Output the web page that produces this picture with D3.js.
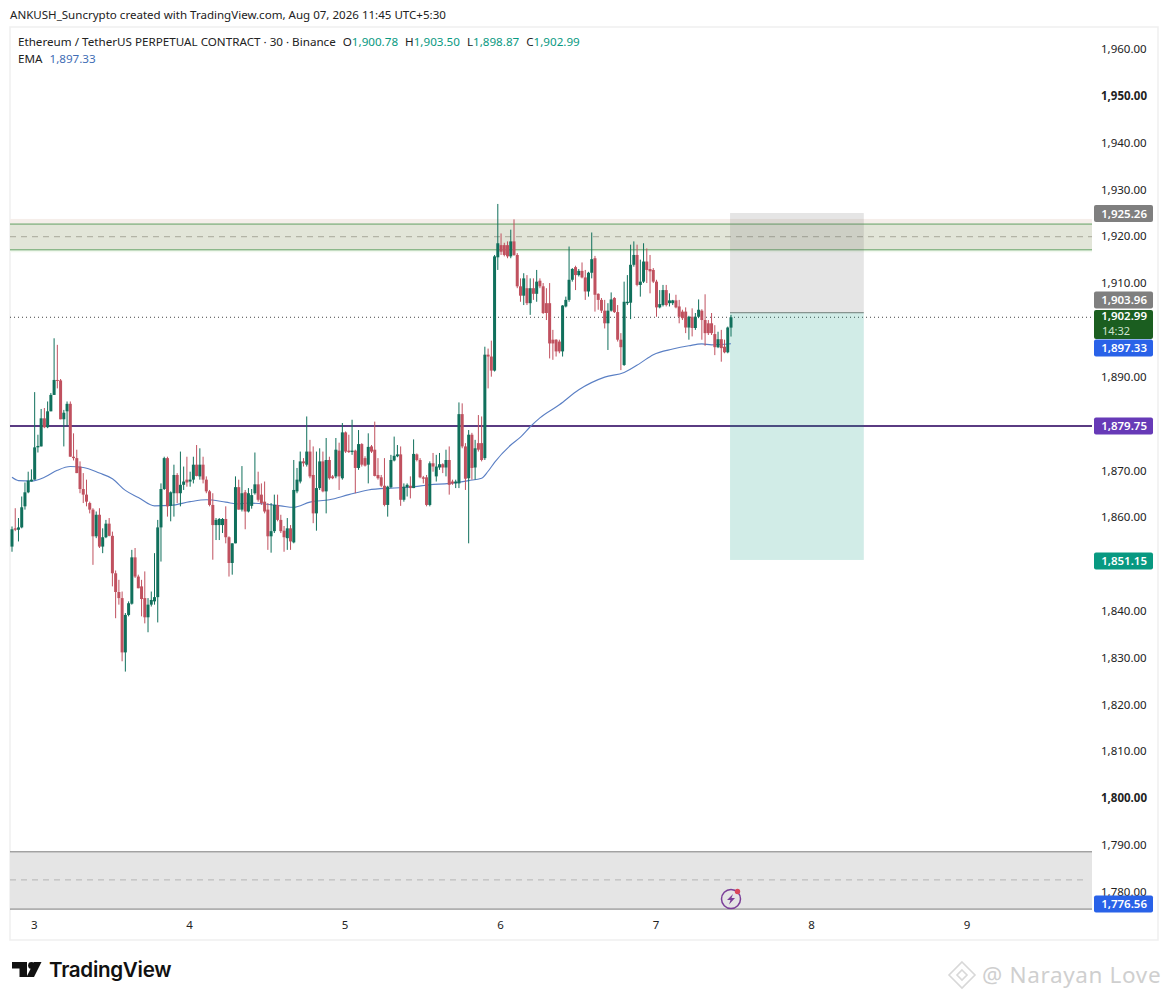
<!DOCTYPE html>
<html><head><meta charset="utf-8">
<style>html,body{margin:0;padding:0;background:#fff}svg{display:block}text{font-family:"Noto Sans",sans-serif}</style>
<script src="https://cdn.jsdelivr.net/npm/d3@7"></script></head>
<body><div id="chart"></div>
<script>
const opens=[1854.0,1857.9,1857.6,1858.1,1862.6,1865.6,1867.9,1868.3,1875.2,1875.4,
1881.4,1879.5,1882.9,1886.4,1889.6,1889.5,1881.2,1882.9,1884.5,1873.2,
1872.9,1871.1,1866.3,1865.1,1863.3,1861.9,1856.2,1860.8,1854.0,1856.0,
1858.9,1856.3,1848.3,1844.3,1843.0,1831.4,1839.4,1841.8,1851.7,1847.6,
1845.5,1843.0,1838.9,1841.6,1842.3,1843.2,1858.1,1866.3,1872.9,1862.7,
1865.4,1869.3,1865.4,1867.2,1868.3,1867.9,1868.3,1871.5,1869.0,1871.5,
1868.3,1865.8,1862.9,1858.6,1858.6,1858.6,1859.9,1856.0,1850.5,1854.7,
1866.7,1861.9,1865.6,1861.5,1862.7,1865.4,1867.3,1865.1,1863.6,1861.9,
1856.2,1857.3,1862.9,1859.7,1857.4,1855.8,1857.9,1854.9,1865.8,1867.9,
1872.2,1871.5,1874.3,1869.3,1861.1,1866.5,1872.2,1865.8,1872.5,1869.0,
1869.0,1874.5,1868.6,1878.4,1874.5,1874.2,1874.5,1870.8,1875.9,1872.9,
1871.5,1875.4,1874.7,1869.3,1868.8,1867.0,1862.9,1866.7,1872.4,1873.3,
1873.7,1864.0,1866.7,1867.0,1866.5,1873.7,1872.5,1868.8,1868.8,1862.9,
1871.8,1869.0,1870.9,1871.6,1870.9,1872.5,1867.9,1867.5,1867.5,1882.3,
1875.4,1868.6,1877.9,1870.9,1876.1,1876.1,1872.9,1895.0,1894.6,1891.6,
1915.8,1918.4,1918.4,1918.4,1916.0,1919.2,1916.3,1909.6,1907.6,1909.2,
1906.0,1909.2,1908.0,1910.8,1909.6,1906.0,1906.0,1898.2,1898.2,1897.8,
1895.7,1905.3,1906.7,1911.0,1913.7,1912.0,1912.9,1911.5,1908.5,1912.5,
1915.6,1908.0,1906.7,1904.4,1901.7,1904.4,1907.1,1904.1,1898.2,1892.8,
1906.0,1906.1,1914.2,1916.3,1909.9,1910.6,1914.9,1913.3,1913.1,1910.6,
1905.1,1905.6,1908.8,1906.0,1906.0,1906.6,1905.3,1904.2,1904.2,1900.8,
1903.1,1900.7,1903.1,1904.4,1902.4,1901.7,1901.7,1899.4,1896.6,1898.3,
1896.7,1895.5,1900.78];
const highs=[1858.3,1862.2,1860.1,1864.7,1867.7,1870.0,1870.5,1887.0,1877.9,1883.4,
1883.6,1885.0,1886.8,1898.5,1897.1,1889.8,1883.2,1885.0,1885.0,1878.2,
1874.7,1872.2,1869.7,1868.3,1863.6,1862.2,1861.5,1862.2,1857.9,1859.7,
1860.1,1857.2,1848.9,1846.9,1844.4,1839.8,1842.3,1853.3,1853.7,1848.0,
1846.9,1848.7,1843.0,1844.4,1852.6,1859.7,1867.5,1873.2,1873.2,1865.8,
1871.5,1869.7,1874.3,1871.1,1873.2,1870.0,1873.2,1875.7,1875.0,1873.2,
1869.0,1866.1,1865.4,1860.1,1860.1,1860.1,1862.6,1856.2,1854.7,1869.0,
1868.3,1871.2,1866.1,1866.5,1866.3,1874.1,1870.0,1867.5,1867.9,1863.3,
1863.3,1865.1,1865.1,1860.8,1858.4,1860.1,1858.6,1872.5,1870.8,1874.3,
1872.9,1881.8,1876.8,1875.4,1874.3,1875.0,1874.3,1877.2,1873.2,1869.3,
1877.2,1876.2,1880.4,1878.6,1877.9,1881.1,1874.7,1878.9,1876.1,1873.3,
1878.2,1875.7,1880.7,1872.9,1869.3,1872.9,1867.0,1873.6,1877.5,1875.7,
1875.4,1867.5,1867.5,1869.0,1876.9,1873.9,1872.9,1869.1,1869.3,1872.2,
1874.0,1873.6,1874.0,1871.8,1874.7,1875.4,1868.3,1868.3,1884.8,1884.6,
1876.1,1878.9,1878.3,1876.8,1882.1,1881.8,1896.7,1896.3,1898.0,1916.3,
1927.2,1920.9,1918.9,1919.2,1921.7,1923.9,1916.7,1911.3,1912.4,1912.0,
1911.3,1911.3,1913.1,1911.3,1910.3,1909.2,1910.3,1900.3,1898.3,1898.2,
1905.6,1907.4,1918.1,1913.5,1914.0,1913.3,1914.7,1913.1,1912.7,1921.1,
1916.1,1908.1,1907.1,1906.7,1906.0,1908.3,1907.3,1905.6,1899.6,1910.6,
1912.0,1918.5,1919.2,1918.5,1915.3,1918.8,1917.7,1916.3,1913.5,1911.0,
1908.8,1909.9,1909.9,1908.1,1906.7,1907.8,1906.7,1904.6,1905.1,1903.3,
1904.9,1903.9,1906.8,1904.7,1907.9,1902.4,1903.9,1901.3,1899.9,1900.3,
1898.2,1901.0,1903.5];
const lows=[1852.9,1857.3,1855.1,1857.9,1861.9,1865.4,1867.9,1868.3,1874.1,1875.4,
1879.3,1879.3,1882.9,1886.4,1887.8,1881.2,1875.4,1879.7,1873.2,1872.4,
1869.7,1865.4,1863.3,1862.6,1861.1,1850.1,1855.8,1853.7,1852.6,1855.8,
1856.2,1845.5,1838.7,1841.6,1829.5,1827.3,1839.1,1841.6,1847.3,1845.1,
1839.1,1837.6,1835.7,1841.2,1841.6,1837.8,1850.8,1866.1,1860.4,1859.4,
1860.4,1863.3,1862.6,1866.1,1866.8,1866.8,1867.5,1869.0,1868.3,1867.5,
1865.4,1862.6,1851.2,1855.4,1855.4,1856.9,1854.7,1847.6,1848.0,1854.7,
1861.9,1861.5,1857.7,1861.3,1862.1,1865.1,1863.6,1862.9,1861.1,1853.3,
1852.7,1856.9,1859.4,1856.9,1852.9,1853.3,1853.3,1854.7,1865.4,1867.5,
1871.1,1871.1,1868.6,1859.0,1857.4,1866.1,1865.6,1861.1,1868.3,1868.4,
1868.6,1866.1,1868.3,1874.0,1874.0,1873.6,1865.4,1870.4,1871.1,1871.1,
1867.5,1874.0,1869.0,1868.3,1866.7,1862.6,1860.4,1866.5,1872.2,1873.1,
1862.7,1863.6,1864.7,1864.3,1866.5,1872.2,1868.6,1867.5,1862.6,1862.6,
1870.0,1867.9,1870.4,1869.7,1869.0,1865.1,1867.2,1866.5,1866.5,1875.0,
1866.1,1854.7,1868.3,1868.3,1874.3,1872.2,1872.5,1887.8,1890.3,1891.4,
1913.1,1916.3,1916.0,1915.6,1915.6,1916.1,1909.2,1906.3,1905.6,1905.6,
1903.5,1906.7,1906.3,1909.2,1903.7,1902.4,1894.2,1893.9,1894.6,1895.3,
1894.6,1905.1,1906.3,1910.6,1908.8,1911.7,1911.3,1906.7,1907.4,1911.3,
1904.2,1904.6,1903.9,1900.6,1896.0,1904.2,1903.9,1897.8,1891.7,1892.6,
1905.6,1902.6,1913.8,1909.6,1907.4,1910.3,1910.3,1908.1,1910.3,1903.1,
1904.9,1905.3,1905.3,1905.3,1905.6,1904.9,1901.7,1902.4,1899.6,1898.2,
1898.9,1900.3,1902.8,1898.2,1896.9,1899.2,1899.2,1894.9,1896.4,1893.5,
1895.3,1895.3,1898.87];
const closes=[1857.7,1857.6,1858.1,1862.4,1865.6,1868.1,1868.3,1875.2,1875.5,1881.4,
1879.5,1882.9,1886.4,1889.6,1889.4,1881.2,1882.6,1884.5,1873.2,1872.9,
1869.7,1866.3,1865.1,1863.6,1861.9,1856.2,1860.8,1854.0,1856.0,1858.9,
1856.3,1848.3,1844.3,1843.0,1831.4,1839.4,1841.9,1851.7,1847.6,1845.1,
1842.8,1838.9,1841.6,1842.6,1843.2,1858.1,1866.3,1872.9,1862.6,1865.6,
1869.3,1865.4,1867.2,1867.9,1867.7,1868.3,1871.5,1869.1,1871.5,1868.3,
1865.8,1862.9,1858.6,1859.7,1859.9,1859.9,1856.0,1850.5,1854.7,1866.7,
1861.9,1865.4,1861.5,1865.4,1865.0,1867.3,1864.0,1863.3,1861.5,1856.2,
1857.3,1862.9,1859.7,1857.3,1856.0,1857.9,1855.1,1866.1,1868.3,1872.2,
1871.8,1874.3,1869.0,1861.1,1866.5,1872.2,1865.8,1872.5,1868.6,1868.6,
1874.7,1869.0,1878.4,1874.3,1874.2,1874.5,1870.8,1875.9,1871.5,1871.3,
1875.3,1874.3,1869.1,1868.6,1867.0,1862.9,1866.8,1872.5,1873.4,1873.7,
1864.0,1866.8,1867.2,1866.5,1873.8,1872.5,1868.8,1868.5,1862.9,1871.8,
1871.1,1871.1,1871.6,1870.9,1872.5,1867.2,1867.5,1867.9,1882.3,1875.4,
1868.5,1877.9,1870.8,1875.0,1874.7,1872.5,1895.0,1894.6,1891.6,1916.0,
1918.8,1917.0,1916.3,1916.0,1919.2,1916.3,1909.6,1907.6,1911.3,1906.0,
1909.2,1908.0,1910.6,1909.6,1903.9,1903.9,1897.4,1897.4,1895.7,1895.7,
1905.5,1906.7,1911.0,1913.3,1912.0,1912.9,1911.5,1908.5,1912.5,1915.4,
1907.8,1906.7,1904.4,1901.7,1904.4,1906.8,1904.1,1898.2,1896.6,1906.3,
1906.3,1914.2,1916.3,1909.9,1910.6,1914.9,1913.1,1912.8,1910.6,1905.1,
1905.8,1908.8,1905.6,1906.6,1906.6,1905.1,1903.1,1902.8,1900.8,1903.1,
1900.7,1903.1,1904.6,1902.4,1899.6,1899.6,1899.6,1896.6,1898.3,1896.4,
1895.5,1900.8,1902.99];
const emaBars=[0,2,6,10,14,18,22,27,31,35,39,44,49,55,60,66,70,73,78,83,87,92,98,104,110,117,123,129,135,141,145,147,149,154,157,160,163,169,175,183,189,194,198,204,209,213,216,222];
const emaValues=[1868.8,1868.1,1868.0,1868.8,1870.3,1871.1,1870.9,1869.7,1868.5,1866.0,1864.5,1862.7,1862.8,1863.6,1864.0,1863.5,1863.1,1863.3,1863.1,1862.7,1862.4,1863.5,1864.0,1865.1,1866.1,1866.5,1866.7,1867.2,1867.5,1868.1,1868.6,1870.1,1872.0,1875.7,1877.4,1879.6,1881.5,1884.3,1887.5,1890.2,1891.2,1893.2,1895.0,1896.2,1896.9,1897.3,1897.1,1897.33];

const priceTicks=[1960,1950,1940,1930,1920,1910,1890,1870,1860,1840,1830,1820,1810,1800,1790,1780];
const majorPrices=[1950,1800];
const dayTicks=[7,55,103,151,199,247,295];
const dayLabels=["3","4","5","6","7","8","9"];
const lastPrice=1902.99, emaLast=1897.33, keyLevel=1879.75;
const stopPrice=1925.26, entryPrice=1903.96, targetPrice=1851.15;
const toolBars=[221.7,263];
const upperZone=[1924.0,1922.9,1920.2,1917.4];
const lowerZone=[1788.8,1782.8,1776.56];
const priceTags=[
 {v:stopPrice,t:"1,925.26",c:"#7f7f7f",cy:213.5},
 {v:entryPrice,t:"1,903.96",c:"#7f7f7f",cy:300},
 {v:emaLast,t:"1,897.33",c:"#2962e8",cy:348},
 {v:keyLevel,t:"1,879.75",c:"#673ab7",cy:426},
 {v:targetPrice,t:"1,851.15",c:"#089981",cy:561},
 {v:1776.56,t:"1,776.56",c:"#2962e8",cy:904}];

const W=1168,H=1000,L=10,R=1092,T=28,B=910;
const GREEN="#10705c",RED="#c0515f";
const svg=d3.select("#chart").append("svg").attr("width",W).attr("height",H);
const x=d3.scaleLinear().domain([0,222]).range([12,731]);
const y=d3.scaleLinear().domain([1960,1780]).range([50.4,893]);

svg.append("rect").attr("x",10).attr("y",27).attr("width",1148).attr("height",913).attr("fill","#fff").attr("stroke","#efefef").attr("stroke-width",1.5);
svg.append("defs").append("clipPath").attr("id","pane").append("rect").attr("x",L).attr("y",T).attr("width",R-L).attr("height",B-T);
const pane=svg.append("g").attr("clip-path","url(#pane)");

// zones
pane.append("rect").attr("x",L).attr("width",R-L).attr("y",y(upperZone[0])).attr("height",y(upperZone[1])-y(upperZone[0])).attr("fill","#f5eeea");
pane.append("rect").attr("x",L).attr("width",R-L).attr("y",y(upperZone[1])).attr("height",y(upperZone[3])-y(upperZone[1])).attr("fill","#e2e5d8");
pane.append("rect").attr("x",L).attr("width",R-L).attr("y",y(upperZone[3])).attr("height",2.5).attr("fill","#f1f8ee");
[1,3].forEach(i=>pane.append("line").attr("x1",L).attr("x2",R).attr("y1",y(upperZone[i])).attr("y2",y(upperZone[i])).attr("stroke","#62a062").attr("stroke-width",1));
pane.append("line").attr("x1",L).attr("x2",R).attr("y1",y(upperZone[2])).attr("y2",y(upperZone[2])).attr("stroke","#a8a89a").attr("stroke-dasharray","6 5");

pane.append("rect").attr("x",L).attr("width",R-L).attr("y",y(lowerZone[0])).attr("height",y(lowerZone[2])-y(lowerZone[0])).attr("fill","#e5e5e5");
[0,2].forEach(i=>pane.append("line").attr("x1",L).attr("x2",R).attr("y1",y(lowerZone[i])).attr("y2",y(lowerZone[i])).attr("stroke","#7d7d7d"));
pane.append("line").attr("x1",L).attr("x2",R-5).attr("y1",y(lowerZone[1])).attr("y2",y(lowerZone[1])).attr("stroke","#b4b4b4").attr("stroke-dasharray","6 5");

// key level & last price
pane.append("line").attr("x1",L).attr("x2",R).attr("y1",y(keyLevel)).attr("y2",y(keyLevel)).attr("stroke","#5a3b82").attr("stroke-width",1.9);
pane.append("line").attr("x1",L).attr("x2",R).attr("y1",y(lastPrice)).attr("y2",y(lastPrice)).attr("stroke","#444").attr("stroke-dasharray","1 3");

// position tool
const tx0=x(toolBars[0]),tx1=x(toolBars[1]);
pane.append("rect").attr("x",tx0).attr("width",tx1-tx0).attr("y",y(stopPrice)).attr("height",y(entryPrice)-y(stopPrice)).attr("fill","rgba(110,110,110,.18)");
pane.append("rect").attr("x",tx0).attr("width",tx1-tx0).attr("y",y(entryPrice)).attr("height",y(targetPrice)-y(entryPrice)).attr("fill","rgba(8,153,129,.19)");
pane.append("line").attr("x1",tx0).attr("x2",tx1).attr("y1",y(entryPrice)).attr("y2",y(entryPrice)).attr("stroke","#6f7d78");

// EMA
pane.append("path").attr("fill","none").attr("stroke","#5a7fc4").attr("stroke-width",1.1)
 .attr("d",d3.line().x((d,i)=>x(emaBars[i])).y(d=>y(d)).curve(d3.curveMonotoneX)(emaValues));

// candles
const idx=d3.range(opens.length);
const candles=pane.append("g").selectAll("g").data(idx).join("g");
const col=i=>closes[i]>=opens[i]?GREEN:RED;
candles.append("line").attr("x1",i=>x(i)).attr("x2",i=>x(i)).attr("y1",i=>y(highs[i])).attr("y2",i=>y(lows[i])).attr("stroke",col).attr("stroke-width",1);
candles.append("rect").attr("x",i=>x(i)-1.5).attr("width",3)
 .attr("y",i=>y(Math.max(opens[i],closes[i])))
 .attr("height",i=>Math.max(1,Math.abs(y(opens[i])-y(closes[i])))).attr("fill",col);

// price axis
const axisR=svg.append("g").attr("transform","translate(1097,0)")
 .call(d3.axisRight(y).tickValues(priceTicks).tickSize(0).tickPadding(4).tickFormat(d3.format(",.2f")));
axisR.select(".domain").remove();
axisR.selectAll("text").attr("font-size",11.5).attr("fill","#222").attr("dy","0.2em")
 .attr("font-weight",d=>majorPrices.includes(d)?700:400).style("font-family",'"Noto Sans",sans-serif');

// time axis
const axisB=svg.append("g").attr("transform","translate(-1,921)")
 .call(d3.axisBottom(x).tickValues(dayTicks).tickSize(0).tickPadding(0).tickFormat((d,i)=>dayLabels[i]));
axisB.select(".domain").remove();
axisB.selectAll("text").attr("font-size",11.5).attr("fill","#222").attr("dy","0.71em").style("font-family",'"Noto Sans",sans-serif');

// price tags
const tag=svg.append("g").selectAll("g").data(priceTags).join("g");
tag.append("rect").attr("x",1094).attr("width",59).attr("y",d=>d.cy-8.5).attr("height",17).attr("rx",2).attr("fill",d=>d.c);
tag.append("text").attr("x",1147).attr("y",d=>d.cy+4).attr("text-anchor","end").attr("font-size",11.5).attr("font-weight",600).attr("fill","#fff").text(d=>d.t);
svg.append("rect").attr("x",1094).attr("y",310).attr("width",59).attr("height",29).attr("rx",2).attr("fill","#1b5e20");
svg.append("text").attr("x",1147).attr("y",320).attr("text-anchor","end").attr("font-size",11.5).attr("font-weight",600).attr("fill","#fff").text("1,902.99");
svg.append("text").attr("x",1102).attr("y",335).attr("font-size",11).attr("fill","#cfe3cf").text("14:32");

// headers
svg.append("text").attr("x",10).attr("y",19).attr("font-size",11.55).attr("fill","#222").text("ANKUSH_Suncrypto created with TradingView.com, Aug 07, 2026 11:45 UTC+5:30");
const h=svg.append("text").attr("x",18).attr("y",46).attr("font-size",11.65).attr("fill","#222");
h.append("tspan").text("Ethereum / TetherUS PERPETUAL CONTRACT · 30 · Binance");
[["O","1,900.78"],["H","1,903.50"],["L","1,898.87"],["C","1,902.99"]].forEach(([a,b],i)=>{
 h.append("tspan").attr("dx",7).text(a);
 h.append("tspan").attr("fill","#089981").text(b);
});
const e=svg.append("text").attr("x",18).attr("y",63).attr("font-size",11.65).attr("fill","#222");
e.append("tspan").text("EMA");
e.append("tspan").attr("dx",7).attr("fill","#3f6db5").text("1,897.33");

// bolt icon
const ic=svg.append("g").attr("transform","translate(731,899)");
ic.append("circle").attr("r",9.5).attr("fill","none").attr("stroke","#7b3f98").attr("stroke-width",1.5);
ic.append("path").attr("d","M2,-5 L-4,1 L-0.5,1 L-2,5.5 L4,-1 L0.5,-1 Z").attr("fill","#7b3f98");
ic.append("circle").attr("cx",6.5).attr("cy",-7.5).attr("r",2.7).attr("fill","#d9475a");

// logo
const lg=svg.append("g").attr("transform","translate(12,962)").attr("fill","#111");
lg.append("path").attr("d","M0,0 H15 V15 H7.5 V6.5 H0 Z");
lg.append("circle").attr("cx",19.5).attr("cy",3.4).attr("r",3.4);
lg.append("path").attr("d","M22,15 H14.5 L22,0 H29.5 Z");
svg.append("text").attr("x",49).attr("y",977).attr("font-size",20.6).attr("font-weight",600).attr("fill","#111").style("font-family","Inter,sans-serif").attr("letter-spacing",-0.3).text("TradingView");

// watermark
const wm=svg.append("g").attr("transform","translate(962,975)").attr("fill","none").attr("stroke","#d8d8d8").attr("stroke-width",1.6);
wm.append("path").attr("d","M0,-13 L13,0 L0,13 L-13,0 Z");
wm.append("path").attr("d","M0,-5 L5,0 L0,5 L-5,0 Z");
svg.append("text").attr("x",982).attr("y",983).attr("font-size",22.5).attr("fill","#cfcfcf").attr("letter-spacing",0.65).text("@ Narayan Love");
</script></body></html>
